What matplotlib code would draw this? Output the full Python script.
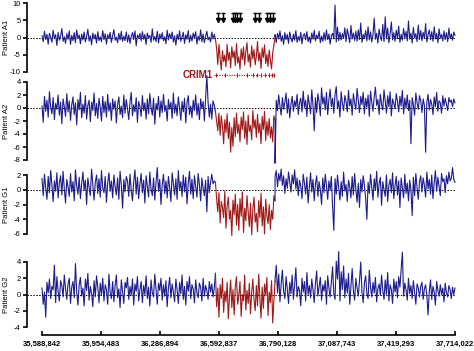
import numpy as np
import matplotlib
matplotlib.use("Agg")
import matplotlib.pyplot as plt

plt.rcParams['font.family'] = ['Liberation Sans', 'DejaVu Sans']
plt.rcParams['axes.unicode_minus'] = False

# x axis: genomic positions, drawn at evenly spaced ticks
tick_labels = ["35,588,842", "35,954,483", "36,286,894", "36,592,837",
               "36,790,128", "37,087,743", "37,419,293", "37,714,022"]
del_start = 2.92   # deletion boundaries, in tick units
del_end = 3.95

patients = ["Patient A1", "Patient A2", "Patient G1", "Patient G2"]
ylims = [(-10, 10), (-8, 4), (-6, 2), (-4, 4)]
yticks = [[-10, -5, 0, 5, 10], [-8, -6, -4, -2, 0, 2, 4], [-6, -4, -2, 0, 2], [-4, -2, 0, 2, 4]]

# log ratios in tenths: left of the deletion / inside / right of it
a1_left = [5,-12,18,-6,9,-19,12,1,-14,21,-3,8,-23,15,-8,4,26,-11,2,-17,
           11,-5,19,-20,6,-9,14,-15,22,-2,7,-18,10,-7,16,-13,3,24,-10,5,
           -21,13,-4,9,-16,17,-9,2,-12,20,-6,11,-19,8,-3,15,-14,6,23,-8,
           1,-15,12,-7,18,-11,4,-9,16,-13,8,-17,3,14,-6,19,-24,7,-2,12,
           -10,17,-5,9,-20,13,-1,6,-14,25,-8,3,-12,18,-16,10,-4,14,-9,2,
           -18,21,-7,11,-3,16,-13,5,-22,9,-6,19,-11,2,15,-17,8,-5,20,-14,
           6,-10,13,-2,17,-19,4,-8,22,-12,10,-15,3,18,-7,1,-13,16,-4,9]
a1_del = [-5,-32,-78,-20,-61,-94,-38,-70,-51,-85,-20,-66,-43,-88,-27,-59,-39,-82,-18,-74,-56,-92,-33,-64,-27,-80,
          -40,-15,-71,-48,-86,-24,-62,-35,-79,-55,-12,-68,-44,-90,-30,-58,-21,-76,-49,-84,-36,-65,-91,-44,-22,3]
a1_right = [8,-15,12,-4,19,-11,5,-20,14,-6,9,-17,16,-2,-13,10,-8,20,-14,3,
            -9,15,-18,6,11,-7,17,-12,2,-16,13,-5,21,-10,7,-3,18,-15,4,-11,
            14,-8,22,-6,10,-19,5,12,-4,94,-13,30,-9,15,-7,11,-2,28,-12,25,
            6,-15,35,-4,13,-9,18,-11,22,-6,42,-14,9,-3,20,-10,31,-7,16,-13,
            8,56,-5,12,-16,24,2,-9,38,-12,60,-4,27,-15,10,45,-7,14,-11,21,
            -3,33,-14,9,-8,26,-2,18,-10,48,-5,13,-16,29,-1,11,-12,36,-6,20,
            -9,15,-3,40,-13,8,22,-7,17,-11,31,-4,12,-15,25,-2,9,-10,19,-6,
            14,-12,27,-3,10,-8,16,6]

a2_left = [3,-22,18,-5,12,-14,25,1,-9,16,-18,7,-2,20,-11,9,-24,14,2,-13,
           22,-6,11,-19,5,17,-10,8,-26,13,-3,24,-15,6,-8,19,-17,4,12,-21,
           9,-4,23,-12,7,-16,15,0,-20,18,-7,10,-14,21,-5,8,-19,14,-2,11,
           -23,6,17,-10,3,-15,20,-8,13,-1,-18,9,24,-12,5,-6,16,-22,10,2,
           -13,19,-4,8,-17,14,-9,22,1,-11,15,-25,7,-3,18,-14,11,-7,21,-5,
           4,-20,13,-2,9,-16,23,-8,6,-12,17,0,-19,10,-6,15,-23,8,19,-10,
           3,-15,12,-4,20,-11,7,-18,14,-1,10,-20,16,50,9,-14,6,-17,11,4]
a2_del = [-6,-20,-35,-8,-42,-12,-28,-55,-18,-38,-9,-47,-22,-68,-30,-59,-15,-44,-8,-39,-25,-52,-14,-33,-6,-47,
          -20,-56,-11,-36,-27,-49,-4,-31,-18,-45,-10,-38,-24,-55,-13,-33,-5,-50,-21,-42,-16,-46,-29,-52,-12,-18]
a2_right = [-85,12,-4,20,3,-11,16,-2,9,23,-8,14,-15,6,18,-5,11,2,21,-10,
            8,15,-6,26,1,12,-13,20,5,-9,28,4,-35,16,-7,22,9,-12,31,6,
            17,-3,24,-10,13,29,2,15,-8,21,33,0,11,-14,25,7,-4,19,10,-6,
            27,3,14,-11,22,8,-2,30,12,-7,18,5,24,-9,15,1,20,-13,26,9,
            -5,17,32,4,13,-10,21,6,-3,28,11,-8,19,2,25,-12,14,7,-1,22,
            10,-6,18,3,27,-9,15,0,20,-4,12,-55,16,5,-11,23,8,-2,19,11,
            -7,14,4,-68,9,21,-3,13,6,-10,17,2,24,-5,11,8,-8,19,3,15,
            6,-4,16,9,12,2,14,8]

g1_left = [15,-8,21,2,-13,18,-4,26,6,-16,12,-2,23,-11,9,19,-7,25,1,-18,
           14,4,-9,22,-3,11,-15,27,5,-6,17,-12,8,24,-1,13,-20,16,3,-8,
           28,7,-14,10,20,-5,15,-10,26,2,-4,18,-17,9,23,-2,12,-11,20,4,
           -7,16,-13,25,6,-25,14,-3,18,12,-9,21,0,-15,11,27,-6,17,-12,8,
           22,-4,13,-18,19,5,-10,24,1,-8,16,-14,10,30,-2,14,-20,7,21,-5,
           12,-11,18,3,-16,23,8,-7,15,-13,26,0,11,-9,20,-3,17,-19,9,25,
           -6,14,-12,19,4,-10,22,7,-15,16,2,-8,13,-30,18,-4,10,21,8,12]
g1_del = [10,-12,-30,-4,-45,-16,-24,-38,-2,-52,-22,-10,-40,-28,-62,-14,-34,-6,-48,-20,-55,-12,-36,-3,-58,-25,
          -42,-8,-30,-50,-18,-61,-26,-10,-44,-32,-57,-15,-38,-5,-49,-23,-60,-13,-35,-46,-20,-54,-28,-40,-8,-15]
g1_right = [18,26,4,22,12,28,6,19,-5,15,2,24,10,-3,20,8,27,1,16,-8,
            13,5,-12,21,9,-6,17,-18,3,23,-3,14,-15,8,19,-9,11,0,-20,16,
            -4,21,6,-13,12,-1,18,-22,-55,15,-6,20,3,-14,11,-9,24,-2,7,-16,
            13,4,-11,18,-7,22,1,-17,9,-24,14,-3,19,6,-12,-40,10,-5,21,3,
            -14,15,-1,25,-10,8,17,-21,11,0,-9,20,-16,6,14,-4,23,-12,5,18,
            -7,12,-24,16,2,-11,21,-5,9,-15,13,0,-35,17,-8,22,3,-13,11,19,
            -3,16,6,-10,24,1,14,-6,20,-12,9,26,-2,17,5,-8,22,11,15,-4,
            19,8,24,12,16,30,14,10]

g2_left = [8,-12,3,-28,15,2,19,-5,10,6,36,-10,22,4,-8,17,11,-3,24,7,
           -6,13,20,-11,9,16,-4,38,3,-13,12,21,-2,8,-14,19,5,26,-7,10,
           1,-15,17,-3,23,9,-10,14,0,20,-8,12,6,-12,25,2,-5,16,-9,11,
           24,-4,7,-16,18,3,-11,15,8,21,-6,10,-1,19,-13,13,4,22,-8,6,
           16,-10,11,0,23,-5,9,-14,18,2,-3,25,7,-12,14,5,20,-7,12,-2,
           17,-15,8,21,-4,13,3,-9,19,6,-11,15,1,24,-6,10,-13,16,4,22,
           -5,12,7,-10,18,2,-4,14,9,-8,20,-2,11,5,-6,16,3,13,-3,8]
g2_del = [26,-15,8,-28,12,-5,20,-22,4,-9,15,-30,-3,18,-16,6,-25,10,22,-12,-2,16,-27,0,-8,24,
          -19,5,-11,14,-24,2,19,-6,-20,11,-14,25,-4,-29,9,-17,13,-1,21,-26,3,-10,17,-35,-8,16]
g2_right = [18,36,2,25,-9,13,30,4,-5,22,7,-11,15,1,24,-6,12,33,-3,10,
            5,-14,20,3,16,-8,27,0,11,-4,19,6,-10,14,29,-2,9,21,-7,12,
            4,17,-12,23,8,-3,15,34,1,-6,41,19,53,-8,28,6,35,-4,19,2,
            26,-12,11,32,4,-7,20,8,-2,17,40,3,-10,14,23,1,-5,30,9,-3,
            15,2,21,-9,7,13,-1,24,5,-6,18,0,27,-8,12,6,-11,19,3,16,
            -4,22,9,31,52,-2,14,6,-7,20,1,11,-5,17,3,-12,13,8,-3,10,
            15,-6,7,12,-1,-25,4,18,-6,10,3,-13,16,5,-2,12,0,8,-9,14,
            2,-3,11,6,-5,9,0,8]

series = [(a1_left, a1_del, a1_right), (a2_left, a2_del, a2_right),
          (g1_left, g1_del, g1_right), (g2_left, g2_del, g2_right)]

# probe arrows above patient A1 and CRIM1 exons
arrow_x = [2.98, 3.07, 3.24, 3.27, 3.31, 3.36, 3.61, 3.68, 3.81, 3.86, 3.92]
exon_x = [2.95, 3.1, 3.3, 3.48, 3.58, 3.65, 3.72, 3.78, 3.84, 3.9, 3.93]

BLUE = "#1c1c8c"
RED = "#a01818"

fig = plt.figure(figsize=(4.74, 3.51), dpi=100)
# axes boxes in pixels (top, bottom)
boxes = [(3, 72), (82, 160), (175, 234), (262, 327)]
W, H = 474.0, 351.0
xl = (-15 / 59.0, 7.0)

for i in range(4):
    top, bot = boxes[i]
    ax = fig.add_axes([27 / W, (H - bot) / H, 428 / W, (bot - top) / H])
    left, dele, right = [np.array(s) / 10.0 for s in series[i]]
    xa = np.linspace(0, del_start, len(left))
    xb = np.linspace(del_start, del_end, len(dele) + 1)[1:]
    xc = np.linspace(del_end, 7.0, len(right))
    ax.axhline(0, color="black", lw=0.7, ls=(0, (1.5, 1.5)), zorder=1)
    ax.plot(np.r_[xa, xb[0]], np.r_[left, dele[0]], color=BLUE, lw=0.8, zorder=2, clip_on=False)
    ax.plot(xb, dele, color=RED, lw=0.8, zorder=2, clip_on=False)
    ax.plot(np.r_[xb[-1], xc], np.r_[dele[-1], right], color=BLUE, lw=0.8, zorder=2, clip_on=False)

    ax.set_xlim(xl)
    ax.set_ylim(ylims[i])
    ax.set_yticks(yticks[i])
    ax.set_ylabel(patients[i], fontsize=5.5)
    ax.yaxis.set_label_coords(-17 / 428.0, 0.5)
    for s in ["top", "right", "bottom"]:
        ax.spines[s].set_visible(False)
    ax.spines["left"].set_linewidth(1.2)
    ax.tick_params(axis="y", labelsize=5.5, length=3, width=1.2, pad=1.5)
    ax.patch.set_alpha(0)

    if i == 0:
        for xa_ in arrow_x:
            ax.plot([xa_, xa_], [7.2, 5.0], color="black", lw=1.0, clip_on=False)
            ax.plot([xa_], [5.0], marker="v", ms=3, color="black", clip_on=False)
            ax.plot([xa_], [7.0], marker="_", ms=3, mew=1.0, color="black", clip_on=False)
        ax.plot([del_start, del_end], [-10.9, -10.9], color=RED, lw=0.8,
                ls=(0, (1, 1.2)), clip_on=False)
        ax.plot(exon_x, [-10.9] * len(exon_x), ls="none", marker="|", ms=3,
                mew=0.8, color=RED, clip_on=False)
        ax.text(del_start - 0.03, -10.9, "CRIM1", color=RED, fontsize=7,
                fontweight="bold", ha="right", va="center")

    if i == 3:
        ax.spines["bottom"].set_visible(True)
        ax.spines["bottom"].set_position(("outward", 5.8))
        ax.spines["bottom"].set_bounds(0, 7)
        ax.spines["bottom"].set_linewidth(1.2)
        ax.set_xticks(range(8))
        ax.set_xticklabels(tick_labels, fontsize=5.5, fontweight="bold")
        ax.tick_params(axis="x", direction="in", length=3, width=1.2, pad=4)
    else:
        ax.set_xticks([])

fig.savefig("out.png", dpi=100)
